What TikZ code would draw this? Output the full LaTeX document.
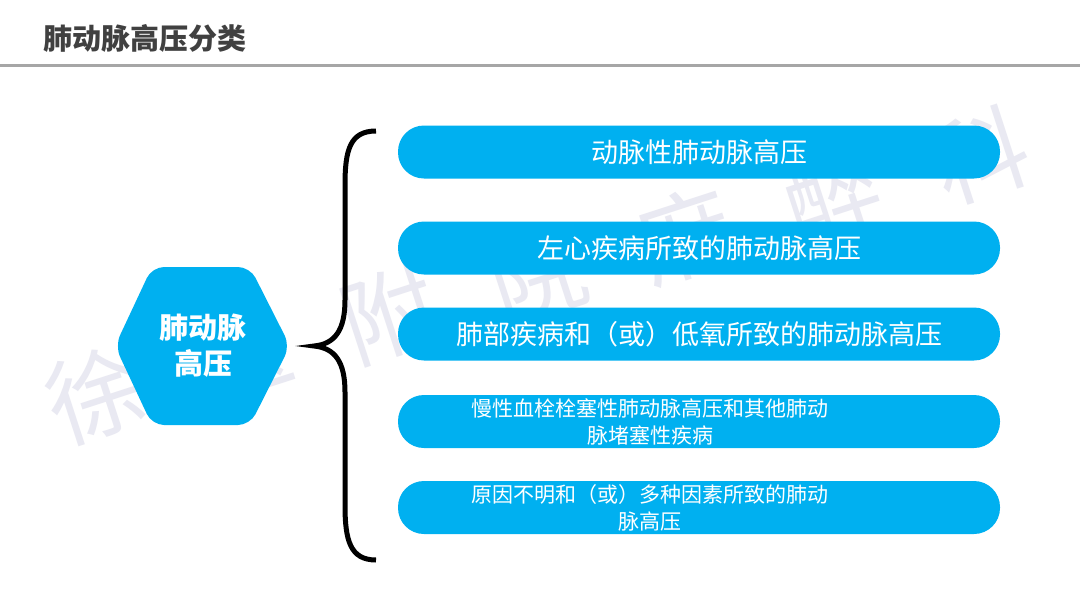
\documentclass[tikz,border=0pt]{standalone}
\usepackage{fontspec}
\setmainfont{Noto Sans CJK SC}
\usetikzlibrary{positioning}
\definecolor{skyblue}{HTML}{00B0F0}
\definecolor{titlegray}{HTML}{404040}
\definecolor{rulegray}{HTML}{A6A6A6}
\definecolor{markgray}{HTML}{E9E9F2}
\tikzset{
  catbox/.style={fill=skyblue, text=white, rounded corners=26pt, minimum width=602pt,
    minimum height=53pt, inner sep=0pt, align=center, font=\fontsize{27}{30}\selectfont},
  smalltext/.style={text=white, inner sep=0pt, align=center, font=\fontsize{21}{27}\selectfont},
  hexnode/.style={text=white, align=center, font=\fontsize{29}{36}\selectfont\bfseries},
  watermark/.style={text=markgray, rotate=18, font=\fontsize{95}{95}\selectfont}
}
\begin{document}
\begin{tikzpicture}[x=1pt, y=-1pt]
  \useasboundingbox (0,0) rectangle (1080,608);
  \fill[white] (0,0) rectangle (1080,608);
  \foreach \ch [count=\i from 0] in {徐,医,附,院,麻,醉,科}
    \node[watermark] (mark\i) at (95+147.5*\i, 395-40*\i) {\ch};
  \node[anchor=west, text=titlegray, font=\fontsize{29}{32}\selectfont\bfseries] (title) at (40,38) {肺动脉高压分类};
  \draw[rulegray, line width=3pt] (0,65) -- (1080,65);
  \fill[skyblue, rounded corners=12pt] (115,346) -- (152,267) -- (250,267) -- (290,346)
    -- (250,425) -- (152,425) -- cycle;
  \node[hexnode] (hex) at (203,346) {肺动脉\\高压};
  \coordinate (bt) at (376,131); \coordinate (bm) at (314,346); \coordinate (bb) at (376,560);
  \draw[line width=5pt] (bt) .. controls (350,131) and (345,150) .. (345,185) -- (345,300)
    .. controls (345,330) and (335,344) .. (bm)
    .. controls (335,348) and (345,362) .. (345,392) -- (345,505)
    .. controls (345,540) and (350,560) .. (bb);
  \node[catbox] (c1) at (699,152) {动脉性肺动脉高压};
  \node[catbox] (c2) at (699,248) {左心疾病所致的肺动脉高压};
  \node[catbox] (c3) at (699,334) {肺部疾病和（或）低氧所致的肺动脉高压};
  \node[catbox] (c4) at (699,421.5) {};
  \node[catbox] (c5) at (699,507.5) {};
  \node[smalltext] (t4) at ([xshift=-49pt]c4.center) {慢性血栓栓塞性肺动脉高压和其他肺动\\脉堵塞性疾病};
  \node[smalltext] (t5) at ([xshift=-49pt]c5.center) {原因不明和（或）多种因素所致的肺动\\脉高压};
\end{tikzpicture}
\end{document}
